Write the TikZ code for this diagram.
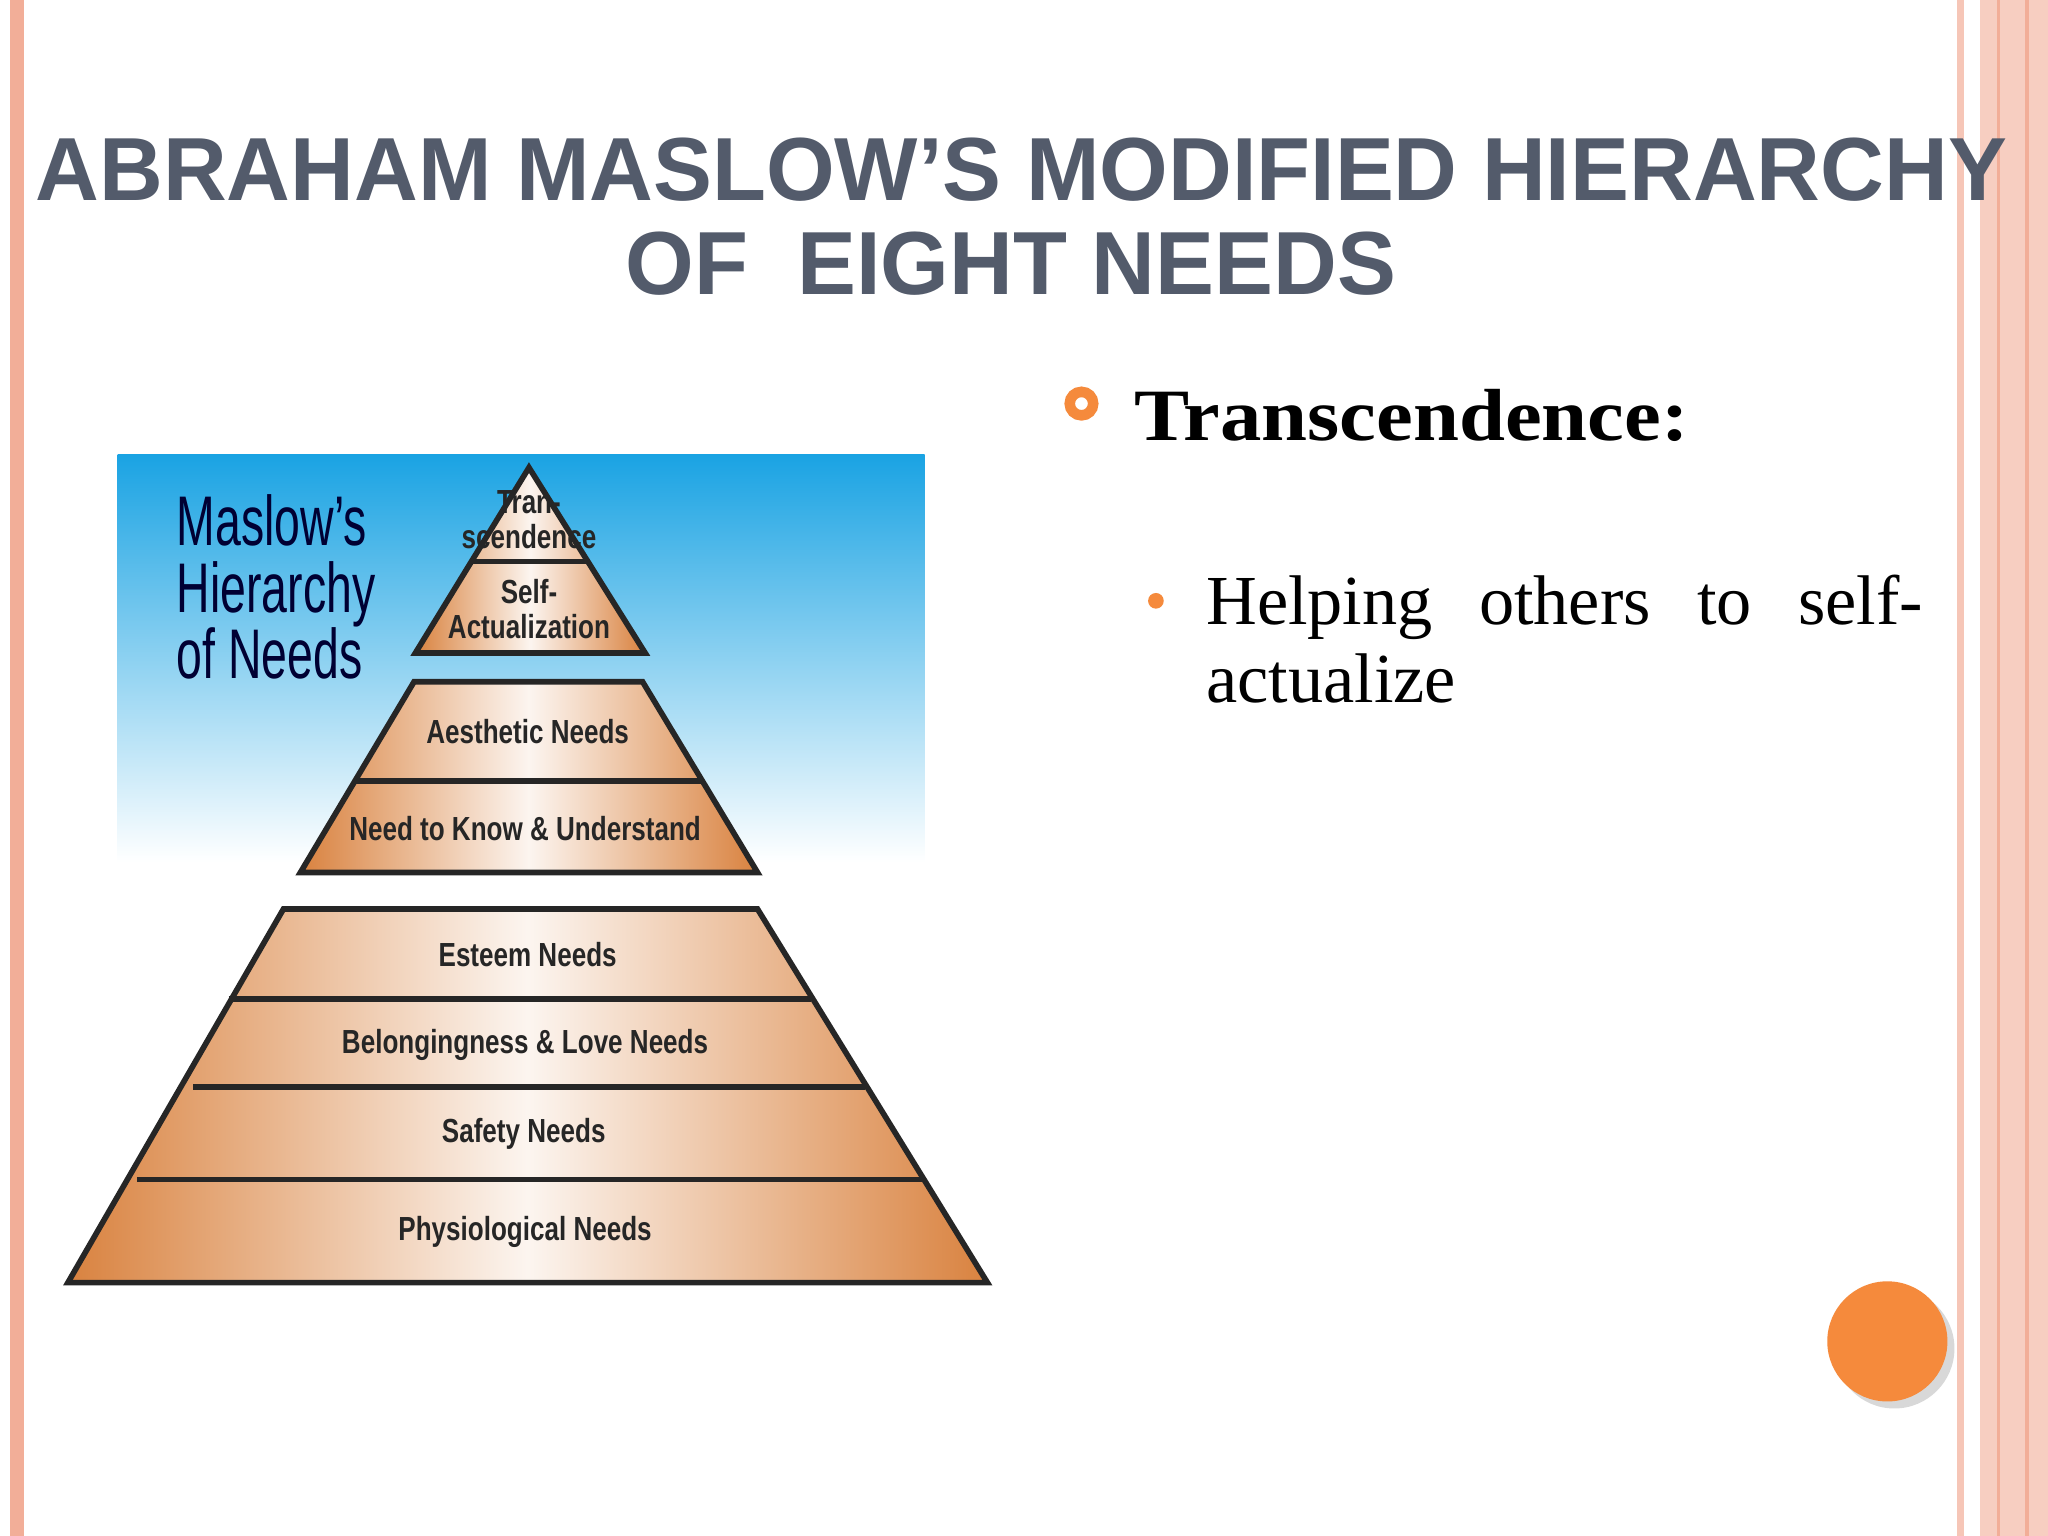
\documentclass[tikz,border=0pt]{standalone}
\usepackage{fontspec}
\setmainfont{Liberation Serif}
\setsansfont{Liberation Sans}
\usetikzlibrary{shadows}
\definecolor{titlec}{HTML}{535B6B}
\definecolor{orng}{HTML}{F58A3C}
\definecolor{pyr}{HTML}{D9823F}
\definecolor{sky}{HTML}{1AA3E3}
\definecolor{salmon}{HTML}{F2AE98}
\tikzset{
  lvl/.style={draw=black!85,line width=1.6pt,left color=pyr,right color=pyr,middle color=white!92!pyr},
  lab/.style={font=\sffamily\bfseries\fontsize{9.5}{10}\selectfont,text=black!85,xscale=0.78},
  ttl/.style={font=\sffamily\bfseries\fontsize{25.5}{27}\selectfont,text=titlec,xscale=0.985}
}
\begin{document}
\begin{tikzpicture}[x=0.013061cm,y=-0.013061cm]
\useasboundingbox (0,0) rectangle (1568,1176);
\fill[white] (0,0) rectangle (1568,1176);
% borders
\fill[salmon] (8,0) rectangle (18,1176);
\fill[salmon!70] (1498,0) rectangle (1504,1176);
\fill[salmon!60] (1516,0) rectangle (1568,1176);
\draw[salmon,line width=1pt] (1530,0) -- (1530,1176);
\draw[salmon,line width=1pt] (1552,0) -- (1552,1176);
% title
\node[ttl] (t1) at (782,130) {ABRAHAM MASLOW’S MODIFIED HIERARCHY};
\node[ttl] (t2) at (774,202) {OF\ \ EIGHT NEEDS};
% bullets
\draw[orng,line width=3pt] (828,309) circle (9);
\node[anchor=west,font=\bfseries\fontsize{21}{24}\selectfont,xscale=1.12] (tr) at (858,318) {Transcendence:};
\fill[orng] (885,460) circle (6);
\node[anchor=north west,align=justify,text width=7.17cm,font=\fontsize{20}{22}\selectfont,inner sep=0pt] (hp) at (923,440) {Helping\hfill others\hfill to\hfill self-\\actualize};
% orange circle
\fill[orng,drop shadow={opacity=0.3,shadow xshift=2pt,shadow yshift=-2pt}] (1445,1027) circle (46);
% picture background
\shade[top color=sky,bottom color=white] (90,348) rectangle (708,660);
% pyramid
\path[lvl] (405,358) -- (494,500) -- (318,500) -- cycle;
\draw[black!85,line width=1.6pt] (360,430) -- (450,430);
\path[lvl] (317,522) -- (492,522) -- (580,668) -- (230,668) -- cycle;
\draw[black!85,line width=1.6pt] (272,598) -- (537,598);
\path[lvl] (217,696) -- (580,696) -- (756,982) -- (52,982) -- cycle;
\draw[black!85,line width=1.6pt] (175,765) -- (621,765) (148,832) -- (662,832) (105,903) -- (707,903);
% labels
\node[lab,align=center] (l1) at (405,398) {Tran-\\scendence};
\node[lab,align=center] (l2) at (405,466) {Self-\\Actualization};
\node[lab] (l3) at (404,560) {Aesthetic Needs};
\node[lab] (l4) at (402,634) {Need to Know \& Understand};
\node[lab] (l5) at (404,731) {Esteem Needs};
\node[lab] (l6) at (402,800) {Belongingness \& Love Needs};
\node[lab] (l7) at (401,868) {Safety Needs};
\node[lab] (l8) at (402,943) {Physiological Needs};
\node[anchor=north west,align=left,font=\sffamily\fontsize{20}{19}\selectfont,text=black!80!blue,xscale=0.66,inner sep=0pt] (mh) at (135,378) {Maslow's\\Hierarchy\\of Needs};
\end{tikzpicture}
\end{document}
